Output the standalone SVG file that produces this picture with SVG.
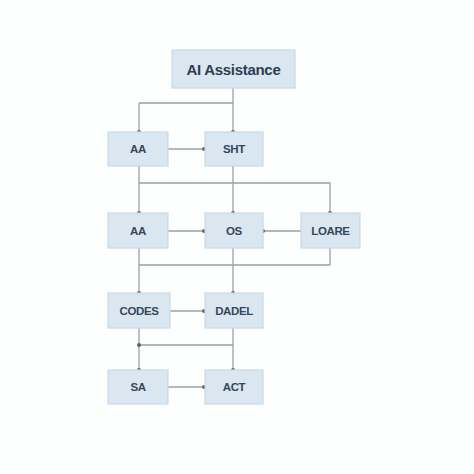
<svg xmlns="http://www.w3.org/2000/svg" width="474" height="474" viewBox="0 0 474 474">
<defs>
<style>
.box{fill:#dae7f1;stroke:#c9d9e6;stroke-width:1.2}
.lbl{font-family:"Liberation Sans",Arial,sans-serif;font-size:11.5px;font-weight:600;fill:#34475b;text-anchor:middle;letter-spacing:-0.4px}
.title{font-family:"Liberation Sans",Arial,sans-serif;font-size:15px;font-weight:600;fill:#2e3d4f;text-anchor:middle;letter-spacing:-0.3px}
.ln{stroke:#9aa0a6;stroke-width:1.3;fill:none}
.dot{fill:#5d646c}
</style>
</defs>
<rect width="474" height="474" fill="#fdfefe"/>
<g id="connectors">
<path class="ln" d="M233 88V132M139 103H233M139 103V132"/>
<path class="ln" d="M168 149H205"/>
<path class="ln" d="M139 166V213M233 166V213M139 183H330V213"/>
<path class="ln" d="M168 231H205M301 231H263"/>
<path class="ln" d="M139 248V293M233 248V293M330 248V265M139 265H330"/>
<path class="ln" d="M170 311H205"/>
<path class="ln" d="M139 328V370M233 328V370M139 345H233"/>
<path class="ln" d="M168 387H205"/>
<circle class="dot" cx="233" cy="132" r="2"/>
<circle class="dot" cx="139" cy="132" r="2"/>
<circle class="dot" cx="204" cy="149" r="2"/>
<circle class="dot" cx="139" cy="213" r="2"/>
<circle class="dot" cx="233" cy="213" r="2"/>
<circle class="dot" cx="330" cy="213" r="2"/>
<circle class="dot" cx="204" cy="231" r="2"/>
<circle class="dot" cx="263" cy="231" r="2"/>
<circle class="dot" cx="139" cy="293" r="2"/>
<circle class="dot" cx="233" cy="293" r="2"/>
<circle class="dot" cx="204" cy="311" r="2"/>
<circle class="dot" cx="139" cy="345" r="2"/>
<circle class="dot" cx="139" cy="370" r="2"/>
<circle class="dot" cx="233" cy="370" r="2"/>
<circle class="dot" cx="204" cy="387" r="2"/>
</g>
<g id="n-ai"><rect class="box" x="172" y="50" width="123" height="38"/><text class="title" x="233.5" y="74.5">AI Assistance</text></g>
<g id="n-aa1"><rect class="box" x="108" y="132" width="60" height="34"/><text class="lbl" x="138" y="153">AA</text></g>
<g id="n-sht"><rect class="box" x="205" y="132" width="58" height="34"/><text class="lbl" x="234" y="153">SHT</text></g>
<g id="n-aa2"><rect class="box" x="108" y="213" width="60" height="35"/><text class="lbl" x="138" y="234.5">AA</text></g>
<g id="n-os"><rect class="box" x="205" y="213" width="58" height="35"/><text class="lbl" x="234" y="234.5">OS</text></g>
<g id="n-loare"><rect class="box" x="301" y="213" width="59" height="35"/><text class="lbl" x="330.5" y="234.5">LOARE</text></g>
<g id="n-codes"><rect class="box" x="108" y="293" width="62" height="35"/><text class="lbl" x="139" y="314.5">CODES</text></g>
<g id="n-dadel"><rect class="box" x="205" y="293" width="58" height="35"/><text class="lbl" x="234" y="314.5">DADEL</text></g>
<g id="n-sa"><rect class="box" x="108" y="370" width="60" height="34"/><text class="lbl" x="138" y="391">SA</text></g>
<g id="n-act"><rect class="box" x="205" y="370" width="58" height="34"/><text class="lbl" x="234" y="391">ACT</text></g>
</svg>
